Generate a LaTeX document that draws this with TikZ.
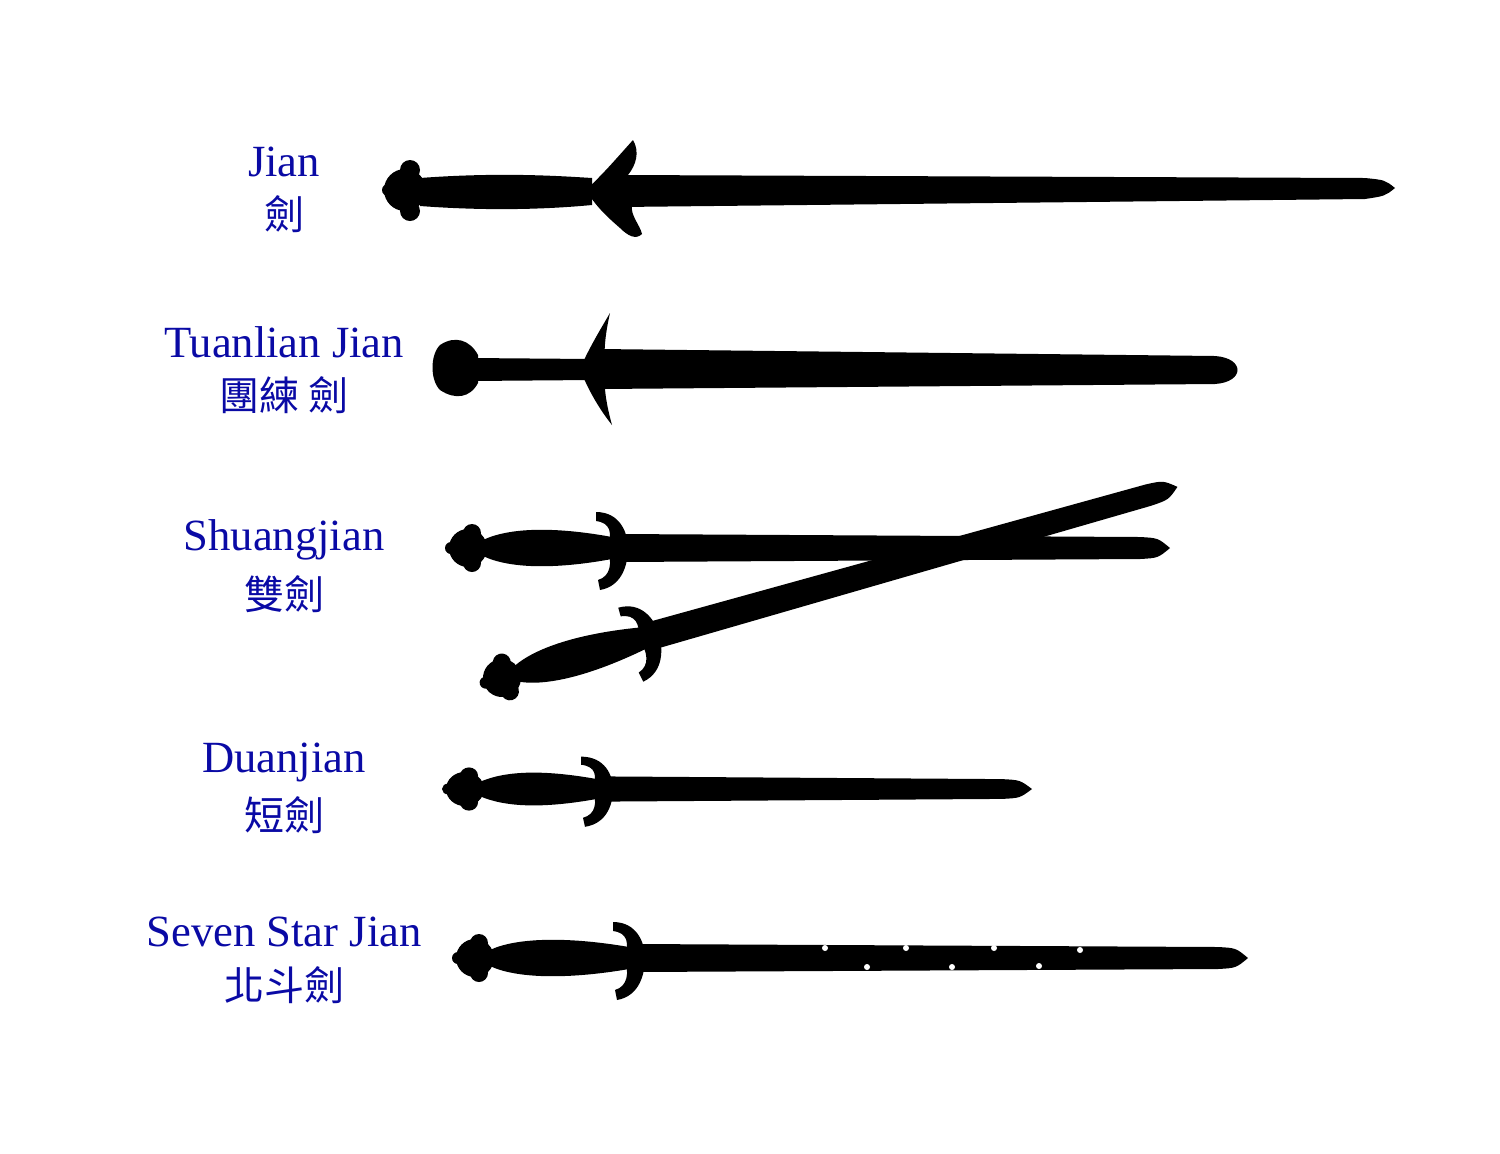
\documentclass[tikz,border=0pt]{standalone}
\usepackage{fontspec}
\setmainfont{Liberation Serif}
\newfontfamily\cjk{Noto Sans CJK TC}
\definecolor{lbl}{RGB}{10,10,165}
\tikzset{
  lab/.style={text=lbl,font=\fontsize{22.3}{26}\selectfont,anchor=center},
  cj/.style={text=lbl,font=\cjk\fontsize{20}{24}\selectfont,anchor=center},
  pics/sword/.style n args={2}{code={
    \fill (0,0) circle (19);
    \fill (-17,0) circle (6);
    \fill (4,-15) circle (9);
    \fill (4,15) circle (9);
    \fill (15,-8) .. controls (40,-20) and ({0.6*#1},-22) .. (#1+4,-11) -- (#1+4,11) .. controls ({0.6*#1},22) and (40,20) .. (15,8) -- cycle;
    \fill (#1-12,-36) .. controls (#1+12,-36) and (#1+20,-15) .. (#1+20,0) .. controls (#1+20,15) and (#1+15,38) .. (#1-8,42) -- (#1-10,32) .. controls (#1+3,28) and (#1+4,15) .. (#1,0) .. controls (#1+4,-15) and (#1+3,-25) .. (#1-12,-27) -- cycle;
    \fill (#1+10,-14) -- (#2-30,-11) .. controls (#2-12,-10) .. (#2,0) .. controls (#2-12,10) .. (#2-30,11) -- (#1+10,14) -- cycle;
  }}
}
\begin{document}
\begin{tikzpicture}[x=0.5pt,y=-0.5pt]
\useasboundingbox (0,0) rectangle (1500,1153);
% labels
\node[lab] (t1) at (284,162) {Jian};
\node[cj] (c1) at (284,214) {劍};
\node[lab] (t2) at (284,342) {Tuanlian Jian};
\node[cj] (c2) at (284,395) {團練 劍};
\node[lab] (t3) at (284,540) {Shuangjian};
\node[cj] (c3) at (284,594) {雙劍};
\node[lab] (t4) at (284,762) {Duanjian};
\node[cj] (c4) at (284,815) {短劍};
\node[lab] (t5) at (284,932) {Seven Star Jian};
\node[cj] (c5) at (284,985) {北斗劍};
% Jian
\fill (620,175) -- (1365,178) .. controls (1385,180) .. (1395,188) .. controls (1385,196) .. (1365,199) -- (620,207) -- cycle;
\fill (420,178) .. controls (500,172) and (560,176) .. (592,178) -- (592,205) .. controls (560,208) and (500,212) .. (420,206) -- cycle;
\fill (405,190) circle (21);
\fill (388,190) circle (6);
\fill (410,170) circle (10);
\fill (410,211) circle (10);
\fill (586,190) .. controls (605,172) and (615,160) .. (633,140) .. controls (640,152) and (636,165) .. (628,175) -- (632,205) .. controls (630,215) and (640,225) .. (642,234) .. controls (636,240) and (628,236) .. (620,228) .. controls (605,215) and (595,205) .. (586,190) -- cycle;
% Tuanlian Jian
\fill (600,349) -- (1215,356) .. controls (1245,358) and (1245,382) .. (1215,384) -- (600,389) -- cycle;
\fill (470,358) -- (592,359) -- (592,380) -- (470,381) -- cycle;
\fill (440,345) .. controls (455,335) and (470,340) .. (478,355) -- (478,383) .. controls (470,398) and (455,400) .. (440,390) .. controls (430,380) and (430,355) .. (440,345) -- cycle;
\fill (610,313) .. controls (600,330) and (588,350) .. (580,369) .. controls (588,390) and (600,410) .. (612,425) .. controls (605,400) and (603,380) .. (606,369) .. controls (603,355) and (605,335) .. (610,313) -- cycle;
% Shuangjian
\pic at (468,548) {sword={140}{702}};
\pic[rotate=15.8] at (502,678) {sword={143}{702}};
% Duanjian
\pic[yscale=0.9] at (465,789) {sword={128}{567}};
% Seven Star
\pic at (475,958) {sword={150}{773}};
\foreach \p in {(825,948),(867,967),(906,948),(952,967),(994,948),(1039,966),(1080,950)}
  \fill[white] \p circle (3);
\end{tikzpicture}
\end{document}
